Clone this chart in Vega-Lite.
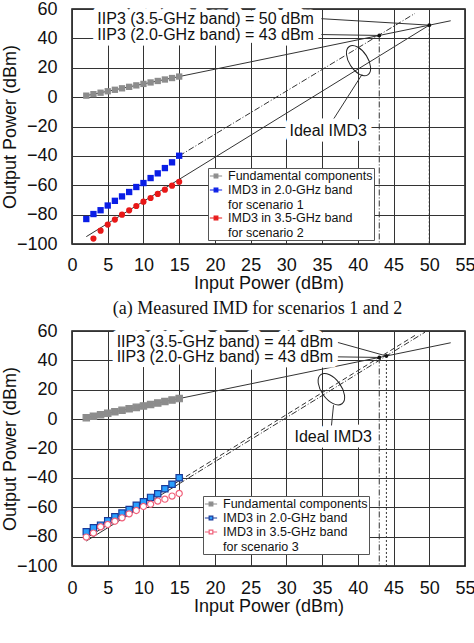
{
  "$schema": "https://vega.github.io/schema/vega-lite/v6.json",
  "background": "white",
  "padding": {"left": 0, "top": -1, "right": 0, "bottom": 0},
  "spacing": 6,
  "resolve": {"scale": {"color": "independent", "fill": "independent", "stroke": "independent", "shape": "independent"}},
  "config": {
    "font": "Liberation Sans",
    "view": {"stroke": "#111", "strokeWidth": 1.5},
    "axis": {
      "labelFont": "Liberation Sans", "titleFont": "Liberation Sans",
      "labelFontSize": 18, "titleFontSize": 18, "titleFontWeight": "normal",
      "labelColor": "#111", "titleColor": "#111",
      "gridColor": "#333", "gridOpacity": 1, "gridWidth": 1,
      "ticks": false, "domain": false
    },
    "legend": {
      "labelFont": "Liberation Sans", "labelFontSize": 12.5, "labelColor": "#111",
      "fillColor": "white", "strokeColor": "#555", "padding": 1,
      "rowPadding": 0, "labelOffset": 5, "symbolSize": 150, "symbolStrokeWidth": 1.2,
      "labelLimit": 300,
      "symbolType": "M-1,0H-0.3M0.3,0H1M-0.3,-0.3H0.3V0.3H-0.3Z"
    }
  },
  "datasets": {
    "topPts": [
      {"s": "Fundamental components", "x": 2, "y": 1}, {"s": "Fundamental components", "x": 3, "y": 2},
      {"s": "Fundamental components", "x": 4, "y": 3}, {"s": "Fundamental components", "x": 5, "y": 4},
      {"s": "Fundamental components", "x": 6, "y": 5}, {"s": "Fundamental components", "x": 7, "y": 6},
      {"s": "Fundamental components", "x": 8, "y": 7}, {"s": "Fundamental components", "x": 9, "y": 8},
      {"s": "Fundamental components", "x": 10, "y": 9}, {"s": "Fundamental components", "x": 11, "y": 10},
      {"s": "Fundamental components", "x": 12, "y": 11}, {"s": "Fundamental components", "x": 13, "y": 12},
      {"s": "Fundamental components", "x": 14, "y": 13}, {"s": "Fundamental components", "x": 15, "y": 14},
      {"s": "IMD3 in 2.0-GHz band|for scenario 1", "x": 2, "y": -83},
      {"s": "IMD3 in 2.0-GHz band|for scenario 1", "x": 3, "y": -79.6},
      {"s": "IMD3 in 2.0-GHz band|for scenario 1", "x": 4, "y": -77},
      {"s": "IMD3 in 2.0-GHz band|for scenario 1", "x": 5, "y": -73.8},
      {"s": "IMD3 in 2.0-GHz band|for scenario 1", "x": 6, "y": -70.6},
      {"s": "IMD3 in 2.0-GHz band|for scenario 1", "x": 7, "y": -67.6},
      {"s": "IMD3 in 2.0-GHz band|for scenario 1", "x": 8, "y": -64.6},
      {"s": "IMD3 in 2.0-GHz band|for scenario 1", "x": 9, "y": -61.2},
      {"s": "IMD3 in 2.0-GHz band|for scenario 1", "x": 10, "y": -58.5},
      {"s": "IMD3 in 2.0-GHz band|for scenario 1", "x": 11, "y": -55.1},
      {"s": "IMD3 in 2.0-GHz band|for scenario 1", "x": 12, "y": -51.9},
      {"s": "IMD3 in 2.0-GHz band|for scenario 1", "x": 13, "y": -48.3},
      {"s": "IMD3 in 2.0-GHz band|for scenario 1", "x": 14, "y": -44.4},
      {"s": "IMD3 in 2.0-GHz band|for scenario 1", "x": 15, "y": -39.9},
      {"s": "IMD3 in 3.5-GHz band|for scenario 2", "x": 3, "y": -96.3},
      {"s": "IMD3 in 3.5-GHz band|for scenario 2", "x": 4, "y": -90.9},
      {"s": "IMD3 in 3.5-GHz band|for scenario 2", "x": 5, "y": -86.8},
      {"s": "IMD3 in 3.5-GHz band|for scenario 2", "x": 6, "y": -83.4},
      {"s": "IMD3 in 3.5-GHz band|for scenario 2", "x": 7, "y": -80},
      {"s": "IMD3 in 3.5-GHz band|for scenario 2", "x": 8, "y": -77.1},
      {"s": "IMD3 in 3.5-GHz band|for scenario 2", "x": 9, "y": -74.1},
      {"s": "IMD3 in 3.5-GHz band|for scenario 2", "x": 10, "y": -71.2},
      {"s": "IMD3 in 3.5-GHz band|for scenario 2", "x": 11, "y": -68.7},
      {"s": "IMD3 in 3.5-GHz band|for scenario 2", "x": 12, "y": -65.9},
      {"s": "IMD3 in 3.5-GHz band|for scenario 2", "x": 13, "y": -63},
      {"s": "IMD3 in 3.5-GHz band|for scenario 2", "x": 14, "y": -60.3},
      {"s": "IMD3 in 3.5-GHz band|for scenario 2", "x": 15, "y": -57.6}
    ],
    "botPts": [
      {"s": "Fundamental components", "x": 2, "y": 1}, {"s": "Fundamental components", "x": 3, "y": 2},
      {"s": "Fundamental components", "x": 4, "y": 3}, {"s": "Fundamental components", "x": 5, "y": 4},
      {"s": "Fundamental components", "x": 6, "y": 5}, {"s": "Fundamental components", "x": 7, "y": 6},
      {"s": "Fundamental components", "x": 8, "y": 7}, {"s": "Fundamental components", "x": 9, "y": 8},
      {"s": "Fundamental components", "x": 10, "y": 9}, {"s": "Fundamental components", "x": 11, "y": 10},
      {"s": "Fundamental components", "x": 12, "y": 11}, {"s": "Fundamental components", "x": 13, "y": 12},
      {"s": "Fundamental components", "x": 14, "y": 13}, {"s": "Fundamental components", "x": 15, "y": 14},
      {"s": "IMD3 in 2.0-GHz band", "x": 2, "y": -76.7},
      {"s": "IMD3 in 2.0-GHz band", "x": 3, "y": -74},
      {"s": "IMD3 in 2.0-GHz band", "x": 4, "y": -72.2},
      {"s": "IMD3 in 2.0-GHz band", "x": 5, "y": -69.2},
      {"s": "IMD3 in 2.0-GHz band", "x": 6, "y": -66.5},
      {"s": "IMD3 in 2.0-GHz band", "x": 7, "y": -64},
      {"s": "IMD3 in 2.0-GHz band", "x": 8, "y": -61.5},
      {"s": "IMD3 in 2.0-GHz band", "x": 9, "y": -58.6},
      {"s": "IMD3 in 2.0-GHz band", "x": 10, "y": -56.3},
      {"s": "IMD3 in 2.0-GHz band", "x": 11, "y": -53.3},
      {"s": "IMD3 in 2.0-GHz band", "x": 12, "y": -50.8},
      {"s": "IMD3 in 2.0-GHz band", "x": 13, "y": -47.4},
      {"s": "IMD3 in 2.0-GHz band", "x": 14, "y": -44.3},
      {"s": "IMD3 in 2.0-GHz band", "x": 15, "y": -39.9},
      {"s": "IMD3 in 3.5-GHz band|for scenario 3", "x": 2, "y": -80.3},
      {"s": "IMD3 in 3.5-GHz band|for scenario 3", "x": 3, "y": -77.6},
      {"s": "IMD3 in 3.5-GHz band|for scenario 3", "x": 4, "y": -73.3},
      {"s": "IMD3 in 3.5-GHz band|for scenario 3", "x": 5, "y": -71.7},
      {"s": "IMD3 in 3.5-GHz band|for scenario 3", "x": 6, "y": -69.5},
      {"s": "IMD3 in 3.5-GHz band|for scenario 3", "x": 7, "y": -67.2},
      {"s": "IMD3 in 3.5-GHz band|for scenario 3", "x": 8, "y": -64.5},
      {"s": "IMD3 in 3.5-GHz band|for scenario 3", "x": 9, "y": -62.2},
      {"s": "IMD3 in 3.5-GHz band|for scenario 3", "x": 10, "y": -59.5},
      {"s": "IMD3 in 3.5-GHz band|for scenario 3", "x": 11, "y": -57.9},
      {"s": "IMD3 in 3.5-GHz band|for scenario 3", "x": 12, "y": -55.8},
      {"s": "IMD3 in 3.5-GHz band|for scenario 3", "x": 13, "y": -54.5},
      {"s": "IMD3 in 3.5-GHz band|for scenario 3", "x": 14, "y": -52.4},
      {"s": "IMD3 in 3.5-GHz band|for scenario 3", "x": 15, "y": -50.6}
    ],
    "topLines": [
      {"id": "fund", "style": "solid", "x": 2, "y": 1}, {"id": "fund", "style": "solid", "x": 53, "y": 52},
      {"id": "ideal35", "style": "solid", "x": 2, "y": -95}, {"id": "ideal35", "style": "solid", "x": 50, "y": 49},
      {"id": "lead35", "style": "solid", "x": 34.9, "y": 53.4}, {"id": "lead35", "style": "solid", "x": 50, "y": 49},
      {"id": "lead20", "style": "solid", "x": 34.9, "y": 42.6}, {"id": "lead20", "style": "solid", "x": 43, "y": 42},
      {"id": "leadIdeal", "style": "solid", "x": 36.6, "y": -15}, {"id": "leadIdeal", "style": "solid", "x": 40.6, "y": 15.5},
      {"id": "ideal20", "style": "dashdot", "x": 15, "y": -40}, {"id": "ideal20", "style": "dashdot", "x": 48, "y": 57},
      {"id": "v43", "style": "dashdot", "x": 43, "y": 42}, {"id": "v43", "style": "dashdot", "x": 43, "y": -100},
      {"id": "v50", "style": "dotted", "x": 50, "y": 49}, {"id": "v50", "style": "dotted", "x": 50, "y": -100}
    ],
    "botLines": [
      {"id": "fund", "style": "solid", "x": 2, "y": 1}, {"id": "fund", "style": "solid", "x": 53, "y": 52},
      {"id": "ideal35a", "style": "solid", "x": 2, "y": -83}, {"id": "ideal35a", "style": "solid", "x": 15, "y": -44},
      {"id": "ideal20a", "style": "solid", "x": 2, "y": -81}, {"id": "ideal20a", "style": "solid", "x": 15, "y": -42},
      {"id": "lead35", "style": "solid", "x": 37.2, "y": 52.2}, {"id": "lead35", "style": "solid", "x": 44, "y": 43},
      {"id": "lead20", "style": "solid", "x": 37.2, "y": 42.4}, {"id": "lead20", "style": "solid", "x": 43, "y": 42},
      {"id": "leadIdeal", "style": "solid", "x": 36.3, "y": -5}, {"id": "leadIdeal", "style": "solid", "x": 36.6, "y": 9.5},
      {"id": "ideal35b", "style": "dashdot", "x": 15, "y": -44}, {"id": "ideal35b", "style": "dashdot", "x": 49.4, "y": 59.2},
      {"id": "ideal20b", "style": "dashed", "x": 15, "y": -42}, {"id": "ideal20b", "style": "dashed", "x": 48.2, "y": 57.6},
      {"id": "v43", "style": "dashdot", "x": 43, "y": 42}, {"id": "v43", "style": "dashdot", "x": 43, "y": -100},
      {"id": "v44", "style": "dotted", "x": 44, "y": 43}, {"id": "v44", "style": "dotted", "x": 44, "y": -100}
    ],
    "topMarks": [
      {"kind": "arrow", "x": 43, "y": 42}, {"kind": "arrow", "x": 50, "y": 49},
      {"kind": "ellipse", "x": 40.1, "y": 24.8}
    ],
    "botMarks": [
      {"kind": "arrow", "x": 43, "y": 42}, {"kind": "arrow", "x": 44, "y": 43},
      {"kind": "ellipse", "x": 36.3, "y": 20.4}
    ],
    "topText": [
      {"x": 18.7, "y": 53.5, "t": "IIP3 (3.5-GHz band) = 50 dBm"},
      {"x": 18.7, "y": 42, "t": "IIP3 (2.0-GHz band) = 43 dBm"},
      {"x": 35.85, "y": -22.9, "t": "Ideal IMD3"}
    ],
    "botText": [
      {"x": 21.4, "y": 52.2, "t": "IIP3 (3.5-GHz band) = 44 dBm"},
      {"x": 21.4, "y": 42.4, "t": "IIP3 (2.0-GHz band) = 43 dBm"},
      {"x": 36.55, "y": -12, "t": "Ideal IMD3"}
    ]
  },
  "vconcat": [
    {
      "width": 393, "height": 235,
      "encoding": {
        "x": {"field": "x", "type": "quantitative", "scale": {"domain": [0, 55], "nice": false, "zero": false},
              "axis": {"title": "Input Power (dBm)", "values": [0,5,10,15,20,25,30,35,40,45,50,55], "labelPadding": 12, "titlePadding": 0, "labelFlush": false}},
        "y": {"field": "y", "type": "quantitative", "scale": {"domain": [-100, 60], "nice": false, "zero": false},
              "axis": {"title": "Output Power (dBm)", "values": [-100,-80,-60,-40,-20,0,20,40,60], "labelPadding": 15, "titlePadding": -3, "labelFlush": false}}
      },
      "layer": [
        {"data": {"name": "topLines"}, "transform": [{"filter": "datum.style == 'solid'"}],
         "mark": {"type": "line", "color": "#333", "strokeWidth": 1, "clip": true},
         "encoding": {"detail": {"field": "id"}}},
        {"data": {"name": "topLines"}, "transform": [{"filter": "datum.style == 'dashdot'"}],
         "mark": {"type": "line", "color": "#333", "strokeWidth": 1, "strokeDash": [6, 2, 1, 2], "clip": true},
         "encoding": {"detail": {"field": "id"}}},
        {"data": {"name": "topLines"}, "transform": [{"filter": "datum.style == 'dotted'"}],
         "mark": {"type": "line", "color": "#333", "strokeWidth": 1, "strokeDash": [2, 2], "clip": true},
         "encoding": {"detail": {"field": "id"}}},
        {"data": {"name": "topMarks"}, "transform": [{"filter": "datum.kind == 'arrow'"}],
         "mark": {"type": "point", "filled": true, "color": "#111", "size": 14, "opacity": 1}},
        {"data": {"name": "topMarks"}, "transform": [{"filter": "datum.kind == 'ellipse'"}],
         "mark": {"type": "point", "filled": false, "color": "#222", "strokeWidth": 1, "opacity": 1, "size": 1150, "angle": 327,
                  "shape": "M0,-1A0.55,1 0 1,1 0,1A0.55,1 0 1,1 0,-1Z"}},
        {"data": {"name": "topPts"}, "transform": [{"filter": "indexof(datum.s, '3.5') < 0"}],
         "mark": {"type": "point", "filled": true, "size": 40, "opacity": 1, "shape": "square", "strokeWidth": 0.01},
         "encoding": {
           "color": {"field": "s", "type": "nominal",
             "scale": {"domain": ["Fundamental components", "IMD3 in 2.0-GHz band|for scenario 1", "IMD3 in 3.5-GHz band|for scenario 2"],
                       "range": ["#8c8c8c", "#0a1ee6", "#e81818"]},
             "legend": {"title": null, "orient": "none", "legendX": 136, "legendY": 159, "symbolType": "M-1,0H-0.3M0.3,0H1M-0.3,-0.3H0.3V0.3H-0.3Z",
               "labelExpr": "split(datum.label, '|')"}},
           "stroke": {"field": "s", "type": "nominal",
             "scale": {"domain": ["Fundamental components", "IMD3 in 2.0-GHz band|for scenario 1", "IMD3 in 3.5-GHz band|for scenario 2"],
                       "range": ["#8c8c8c", "#0a1ee6", "#e81818"]}, "legend": null}
         }},
        {"data": {"name": "topPts"}, "transform": [{"filter": "indexof(datum.s, '3.5') >= 0"}],
         "mark": {"type": "point", "filled": true, "size": 38, "opacity": 1, "shape": "circle", "strokeWidth": 0.01},
         "encoding": {
           "color": {"field": "s", "type": "nominal",
             "scale": {"domain": ["Fundamental components", "IMD3 in 2.0-GHz band|for scenario 1", "IMD3 in 3.5-GHz band|for scenario 2"],
                       "range": ["#8c8c8c", "#0a1ee6", "#e81818"]},
             "legend": {"title": null, "orient": "none", "legendX": 136, "legendY": 159, "symbolType": "M-1,0H-0.3M0.3,0H1M-0.3,-0.3H0.3V0.3H-0.3Z",
               "labelExpr": "split(datum.label, '|')"}},
           "stroke": {"field": "s", "type": "nominal",
             "scale": {"domain": ["Fundamental components", "IMD3 in 2.0-GHz band|for scenario 1", "IMD3 in 3.5-GHz band|for scenario 2"],
                       "range": ["#8c8c8c", "#0a1ee6", "#e81818"]}, "legend": null}
         }},
        {"data": {"name": "topText"},
         "mark": {"type": "text", "fontSize": 16, "font": "Liberation Sans", "stroke": "white", "strokeWidth": 11, "strokeJoin": "round", "color": "white", "align": "center", "baseline": "middle"},
         "encoding": {"text": {"field": "t"}}},
        {"data": {"name": "topText"},
         "mark": {"type": "text", "fontSize": 16, "font": "Liberation Sans", "color": "#111", "align": "center", "baseline": "middle"},
         "encoding": {"text": {"field": "t"}}}
      ]
    },
    {
      "width": 393, "height": 235,
      "title": {"text": "(a)  Measured IMD for scenarios 1 and 2", "font": "Liberation Serif", "fontSize": 18, "fontWeight": "normal", "color": "#111", "anchor": "middle", "dx": -11, "offset": 4},
      "encoding": {
        "x": {"field": "x", "type": "quantitative", "scale": {"domain": [0, 55], "nice": false, "zero": false},
              "axis": {"title": "Input Power (dBm)", "values": [0,5,10,15,20,25,30,35,40,45,50,55], "labelPadding": 13, "titlePadding": 0, "labelFlush": false}},
        "y": {"field": "y", "type": "quantitative", "scale": {"domain": [-100, 60], "nice": false, "zero": false},
              "axis": {"title": "Output Power (dBm)", "values": [-100,-80,-60,-40,-20,0,20,40,60], "labelPadding": 15, "titlePadding": -3, "labelFlush": false}}
      },
      "layer": [
        {"data": {"name": "botLines"}, "transform": [{"filter": "datum.style == 'solid'"}],
         "mark": {"type": "line", "color": "#333", "strokeWidth": 1, "clip": true},
         "encoding": {"detail": {"field": "id"}}},
        {"data": {"name": "botLines"}, "transform": [{"filter": "datum.style == 'dashdot'"}],
         "mark": {"type": "line", "color": "#333", "strokeWidth": 1, "strokeDash": [6, 2, 1, 2], "clip": true},
         "encoding": {"detail": {"field": "id"}}},
        {"data": {"name": "botLines"}, "transform": [{"filter": "datum.style == 'dashed'"}],
         "mark": {"type": "line", "color": "#333", "strokeWidth": 1, "strokeDash": [5, 3], "clip": true},
         "encoding": {"detail": {"field": "id"}}},
        {"data": {"name": "botLines"}, "transform": [{"filter": "datum.style == 'dotted'"}],
         "mark": {"type": "line", "color": "#333", "strokeWidth": 1, "strokeDash": [2, 2], "clip": true},
         "encoding": {"detail": {"field": "id"}}},
        {"data": {"name": "botMarks"}, "transform": [{"filter": "datum.kind == 'arrow'"}],
         "mark": {"type": "point", "filled": true, "color": "#111", "size": 14, "opacity": 1}},
        {"data": {"name": "botMarks"}, "transform": [{"filter": "datum.kind == 'ellipse'"}],
         "mark": {"type": "point", "filled": false, "color": "#222", "strokeWidth": 1, "opacity": 1, "size": 1300, "angle": 324,
                  "shape": "M0,-1A0.55,1 0 1,1 0,1A0.55,1 0 1,1 0,-1Z"}},
        {"data": {"name": "botPts"}, "transform": [{"filter": "indexof(datum.s, '3.5') < 0"}],
         "mark": {"type": "point", "filled": true, "size": 40, "opacity": 1, "strokeWidth": 1.2, "shape": "square"},
         "encoding": {
           "color": {"field": "s", "type": "nominal",
             "scale": {"domain": ["Fundamental components", "IMD3 in 2.0-GHz band", "IMD3 in 3.5-GHz band|for scenario 3"],
                       "range": ["#8c8c8c", "#2aa0ff", "#ffffff"]},
             "legend": {"title": null, "orient": "none", "legendX": 131, "legendY": 165, "symbolType": "M-1,0H-0.3M0.3,0H1M-0.3,-0.3H0.3V0.3H-0.3Z",
               "labelExpr": "split(datum.label, '|')"}},
           "stroke": {"field": "s", "type": "nominal",
             "scale": {"domain": ["Fundamental components", "IMD3 in 2.0-GHz band", "IMD3 in 3.5-GHz band|for scenario 3"],
                       "range": ["#8c8c8c", "#1a3a9a", "#f0607a"]}, "legend": null}
         }},
        {"data": {"name": "botPts"}, "transform": [{"filter": "indexof(datum.s, '3.5') >= 0"}],
         "mark": {"type": "point", "filled": true, "size": 38, "opacity": 1, "strokeWidth": 1.2, "shape": "circle"},
         "encoding": {
           "color": {"field": "s", "type": "nominal",
             "scale": {"domain": ["Fundamental components", "IMD3 in 2.0-GHz band", "IMD3 in 3.5-GHz band|for scenario 3"],
                       "range": ["#8c8c8c", "#2aa0ff", "#ffffff"]},
             "legend": {"title": null, "orient": "none", "legendX": 131, "legendY": 165, "symbolType": "M-1,0H-0.3M0.3,0H1M-0.3,-0.3H0.3V0.3H-0.3Z",
               "labelExpr": "split(datum.label, '|')"}},
           "stroke": {"field": "s", "type": "nominal",
             "scale": {"domain": ["Fundamental components", "IMD3 in 2.0-GHz band", "IMD3 in 3.5-GHz band|for scenario 3"],
                       "range": ["#8c8c8c", "#1a3a9a", "#f0607a"]}, "legend": null}
         }},
        {"data": {"name": "botText"},
         "mark": {"type": "text", "fontSize": 16, "font": "Liberation Sans", "stroke": "white", "strokeWidth": 11, "strokeJoin": "round", "color": "white", "align": "center", "baseline": "middle"},
         "encoding": {"text": {"field": "t"}}},
        {"data": {"name": "botText"},
         "mark": {"type": "text", "fontSize": 16, "font": "Liberation Sans", "color": "#111", "align": "center", "baseline": "middle"},
         "encoding": {"text": {"field": "t"}}}
      ]
    }
  ]
}
